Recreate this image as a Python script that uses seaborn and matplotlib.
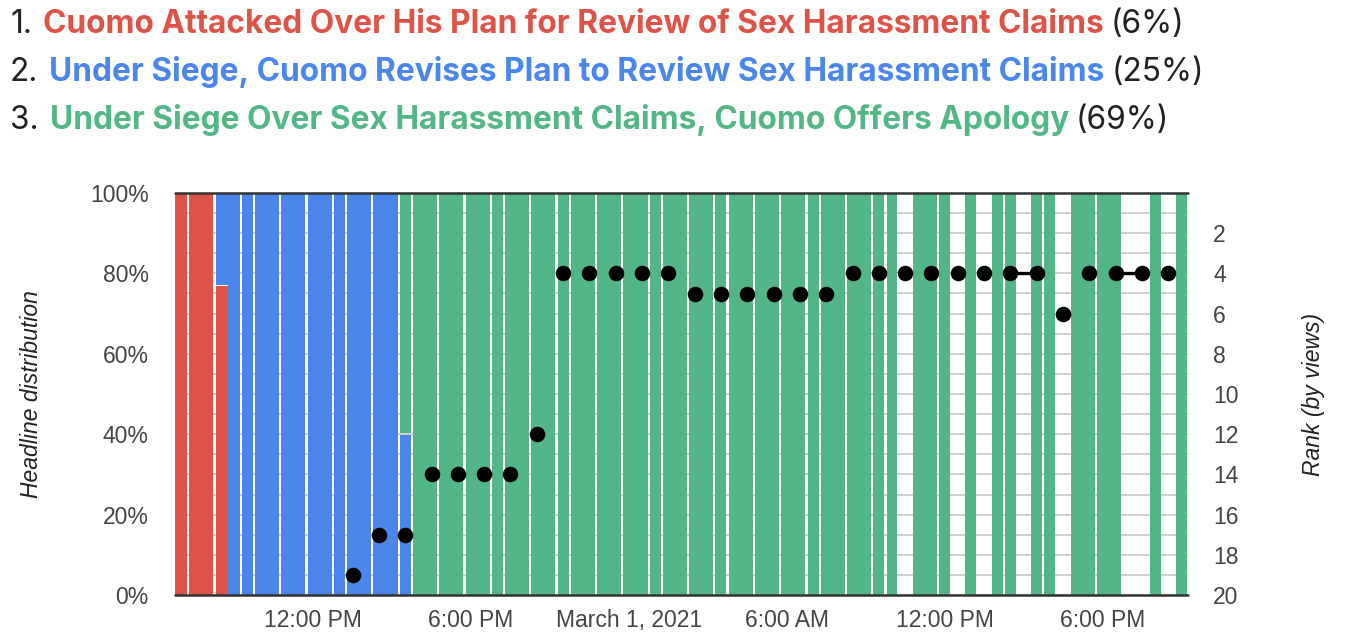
import numpy as np
import pandas as pd
import matplotlib
matplotlib.use("Agg")
import matplotlib.pyplot as plt
import matplotlib.dates as mdates
from matplotlib.ticker import MultipleLocator, PercentFormatter
import seaborn as sns

# --- data -------------------------------------------------------------
headlines = [
    "Cuomo Attacked Over His Plan for Review of Sex Harassment Claims",
    "Under Siege, Cuomo Revises Plan to Review Sex Harassment Claims",
    "Under Siege Over Sex Harassment Claims, Cuomo Offers Apology",
]
headline_share = ["(6%)", "(25%)", "(69%)"]
headline_colors = ["#DE5348", "#4A86EC", "#53B686"]

# edges of the steps (one more than the columns)
step_edges = [
    "2021-02-28 06:45", "2021-02-28 07:15", "2021-02-28 08:15", "2021-02-28 08:45",
    "2021-02-28 09:15", "2021-02-28 09:45", "2021-02-28 10:45", "2021-02-28 11:45",
    "2021-02-28 12:45", "2021-02-28 13:15", "2021-02-28 14:15", "2021-02-28 15:15",
    "2021-02-28 15:45", "2021-02-28 16:45", "2021-02-28 17:45", "2021-02-28 18:45",
    "2021-02-28 19:15", "2021-02-28 20:15", "2021-02-28 21:15", "2021-02-28 21:45",
    "2021-02-28 22:45", "2021-02-28 23:45", "2021-03-01 00:45", "2021-03-01 01:15",
    "2021-03-01 02:15", "2021-03-01 03:15", "2021-03-01 03:45", "2021-03-01 04:45",
    "2021-03-01 05:45", "2021-03-01 06:45", "2021-03-01 07:15", "2021-03-01 08:15",
    "2021-03-01 09:15", "2021-03-01 09:45", "2021-03-01 10:15", "2021-03-01 10:45",
    "2021-03-01 11:45", "2021-03-01 12:15", "2021-03-01 12:45", "2021-03-01 13:15",
    "2021-03-01 13:45", "2021-03-01 14:15", "2021-03-01 14:45", "2021-03-01 15:15",
    "2021-03-01 15:45", "2021-03-01 16:15", "2021-03-01 16:45", "2021-03-01 17:45",
    "2021-03-01 18:45", "2021-03-01 19:45", "2021-03-01 20:15", "2021-03-01 20:45",
    "2021-03-01 21:15",
]
red_pct = [100, 100, 77, 0, 0, 0, 0, 0, 0, 0, 0, 0,
           0, 0, 0, 0, 0, 0, 0, 0, 0, 0,
           0, 0, 0, 0, 0, 0, 0, 0, 0, 0,
           0, 0, 0, 0, 0, 0, 0, 0, 0, 0,
           0, 0, 0, 0, 0, 0, 0, 0, 0, 0]
blue_pct = [0, 0, 23, 100, 100, 100, 100, 100, 100, 100, 100, 40,
            0, 0, 0, 0, 0, 0, 0, 0, 0, 0,
            0, 0, 0, 0, 0, 0, 0, 0, 0, 0,
            0, 0, 0, 0, 0, 0, 0, 0, 0, 0,
            0, 0, 0, 0, 0, 0, 0, 0, 0, 0]
green_pct = [0, 0, 0, 0, 0, 0, 0, 0, 0, 0, 0, 60,
             100, 100, 100, 100, 100, 100, 100, 100, 100, 100,
             100, 100, 100, 100, 100, 100, 100, 100, 100, 100,
             100, 100, 0, 100, 100, 0, 100, 0, 100, 100,
             0, 100, 100, 0, 100, 100, 0, 100, 0, 100]
no_gap_edges = ["2021-02-28 06:45", "2021-02-28 08:45"]

rank_times = pd.date_range("2021-02-28 13:30", "2021-03-01 20:30", freq="h")
rank_values = [19, 17, 17, 14, 14, 14, 14, 12, 4, 4, 4, 4, 4,
               5, 5, 5, 5, 5, 5, 4, 4, 4, 4, 4, 4, 4, 4, 6, 4, 4, 4, 4]
# readings that are joined by a line to the next one
rank_linked = ["2021-03-01 14:30", "2021-03-01 18:30"]

x_ticks = ["2021-02-28 12:00", "2021-02-28 18:00", "2021-03-01 00:00",
           "2021-03-01 06:00", "2021-03-01 12:00", "2021-03-01 18:00"]

# --- figure -----------------------------------------------------------
sns.set_theme(style="white")
plt.rcParams["font.family"] = ["Liberation Sans", "DejaVu Sans"]

W, H = 1362, 640
fig = plt.figure(figsize=(W / 100, H / 100), dpi=100)
ax = fig.add_axes([175 / W, 45 / H, 1013 / W, 402 / H])
ax2 = ax.twinx()

edges = mdates.date2num(pd.to_datetime(step_edges))
joined = set(mdates.date2num(pd.to_datetime(no_gap_edges)))
px = (edges[-1] - edges[0]) / 1013
gap = 2.2 * px
left = np.array([e + (0 if e in joined else gap / 2) for e in edges[:-1]])
right = np.array([e - (0 if e in joined else gap / 2) for e in edges[1:]])
vgap = 100 * 1.6 / 402

cum = np.zeros(len(left))
for vals, color in zip([red_pct, blue_pct, green_pct], headline_colors):
    v = np.array(vals, dtype=float)
    top = cum + v
    y0 = cum + np.where(cum > 0, vgap / 2, 0)
    y1 = top - np.where(top < 100, vgap / 2, 0)
    m = v > 0
    ax.bar(left[m], (y1 - y0)[m], width=(right - left)[m], bottom=y0[m],
           align="edge", color=color, linewidth=0, zorder=2)
    cum = top

ax.set_xlim(edges[0], edges[-1])
ax.set_ylim(0, 100)
ax.yaxis.set_major_locator(MultipleLocator(20))
ax.yaxis.set_minor_locator(MultipleLocator(5))
ax.yaxis.set_major_formatter(PercentFormatter(decimals=0))
ax.set_axisbelow(True)
ax.grid(True, which="both", axis="y", color="#cccccc", lw=1.3)
ax.grid(False, axis="x")
for y in (0, 100):
    ax.axhline(y, color="#333333", lw=1.8, zorder=5, clip_on=False)

tick_pos = pd.to_datetime(x_ticks)
ax.set_xticks(mdates.date2num(tick_pos))
ax.set_xticklabels([t.strftime("%B %-d, %Y") if t.hour == 0 else t.strftime("%-I:%M %p")
                    for t in tick_pos])

# rank line + dots
rank_df = pd.DataFrame({"time": mdates.date2num(rank_times), "rank": rank_values})
linked = rank_times.isin(pd.to_datetime(rank_linked))
rank_df["segment"] = np.cumsum(~np.r_[False, linked[:-1]])
sns.lineplot(data=rank_df, x="time", y="rank", units="segment", estimator=None,
             color="black", lw=2.4, ax=ax2, legend=False)
sns.scatterplot(data=rank_df, x="time", y="rank", s=125, color="black",
                linewidth=0, ax=ax2, legend=False, zorder=4)
ax2.set_ylim(20, 0)
ax2.set_yticks(range(2, 21, 2))
ax2.grid(False)

for a in (ax, ax2):
    for s in a.spines.values():
        s.set_visible(False)
ax.tick_params(axis="y", which="both", length=0, pad=19, labelsize=16.5, labelcolor="#444444")
ax.tick_params(axis="x", which="both", length=0, pad=10, labelsize=16.5, labelcolor="#444444")
ax2.tick_params(axis="y", which="both", length=0, pad=18, labelsize=16.5, labelcolor="#444444")

ax.set_xlabel("")
ax.set_ylabel("Headline distribution", fontstyle="italic", fontsize=16.5, color="#222222")
ax.yaxis.set_label_coords(-0.1303, 0.5)
ax2.set_ylabel("Rank (by views)", fontstyle="italic", fontsize=16.5, color="#222222")
ax2.yaxis.set_label_coords(1.1125, 0.5)

# coloured headline legend at the top
renderer = fig.canvas.get_renderer()
baselines = [33, 81, 129]
for i, (title, share, color) in enumerate(zip(headlines, headline_share, headline_colors)):
    x = 10
    parts = [(f"{i + 1}.", "#202124", "normal", 11), (title, color, "bold", 7),
             (share, "#202124", "normal", 0)]
    for text, c, w, space in parts:
        t = fig.text(x / W, 1 - baselines[i] / H, text, color=c, fontweight=w,
                     family=["Inter", "DejaVu Sans"], fontsize=22.8, va="baseline", ha="left")
        x = t.get_window_extent(renderer).x1 + space

fig.savefig("out.png", dpi=100)
